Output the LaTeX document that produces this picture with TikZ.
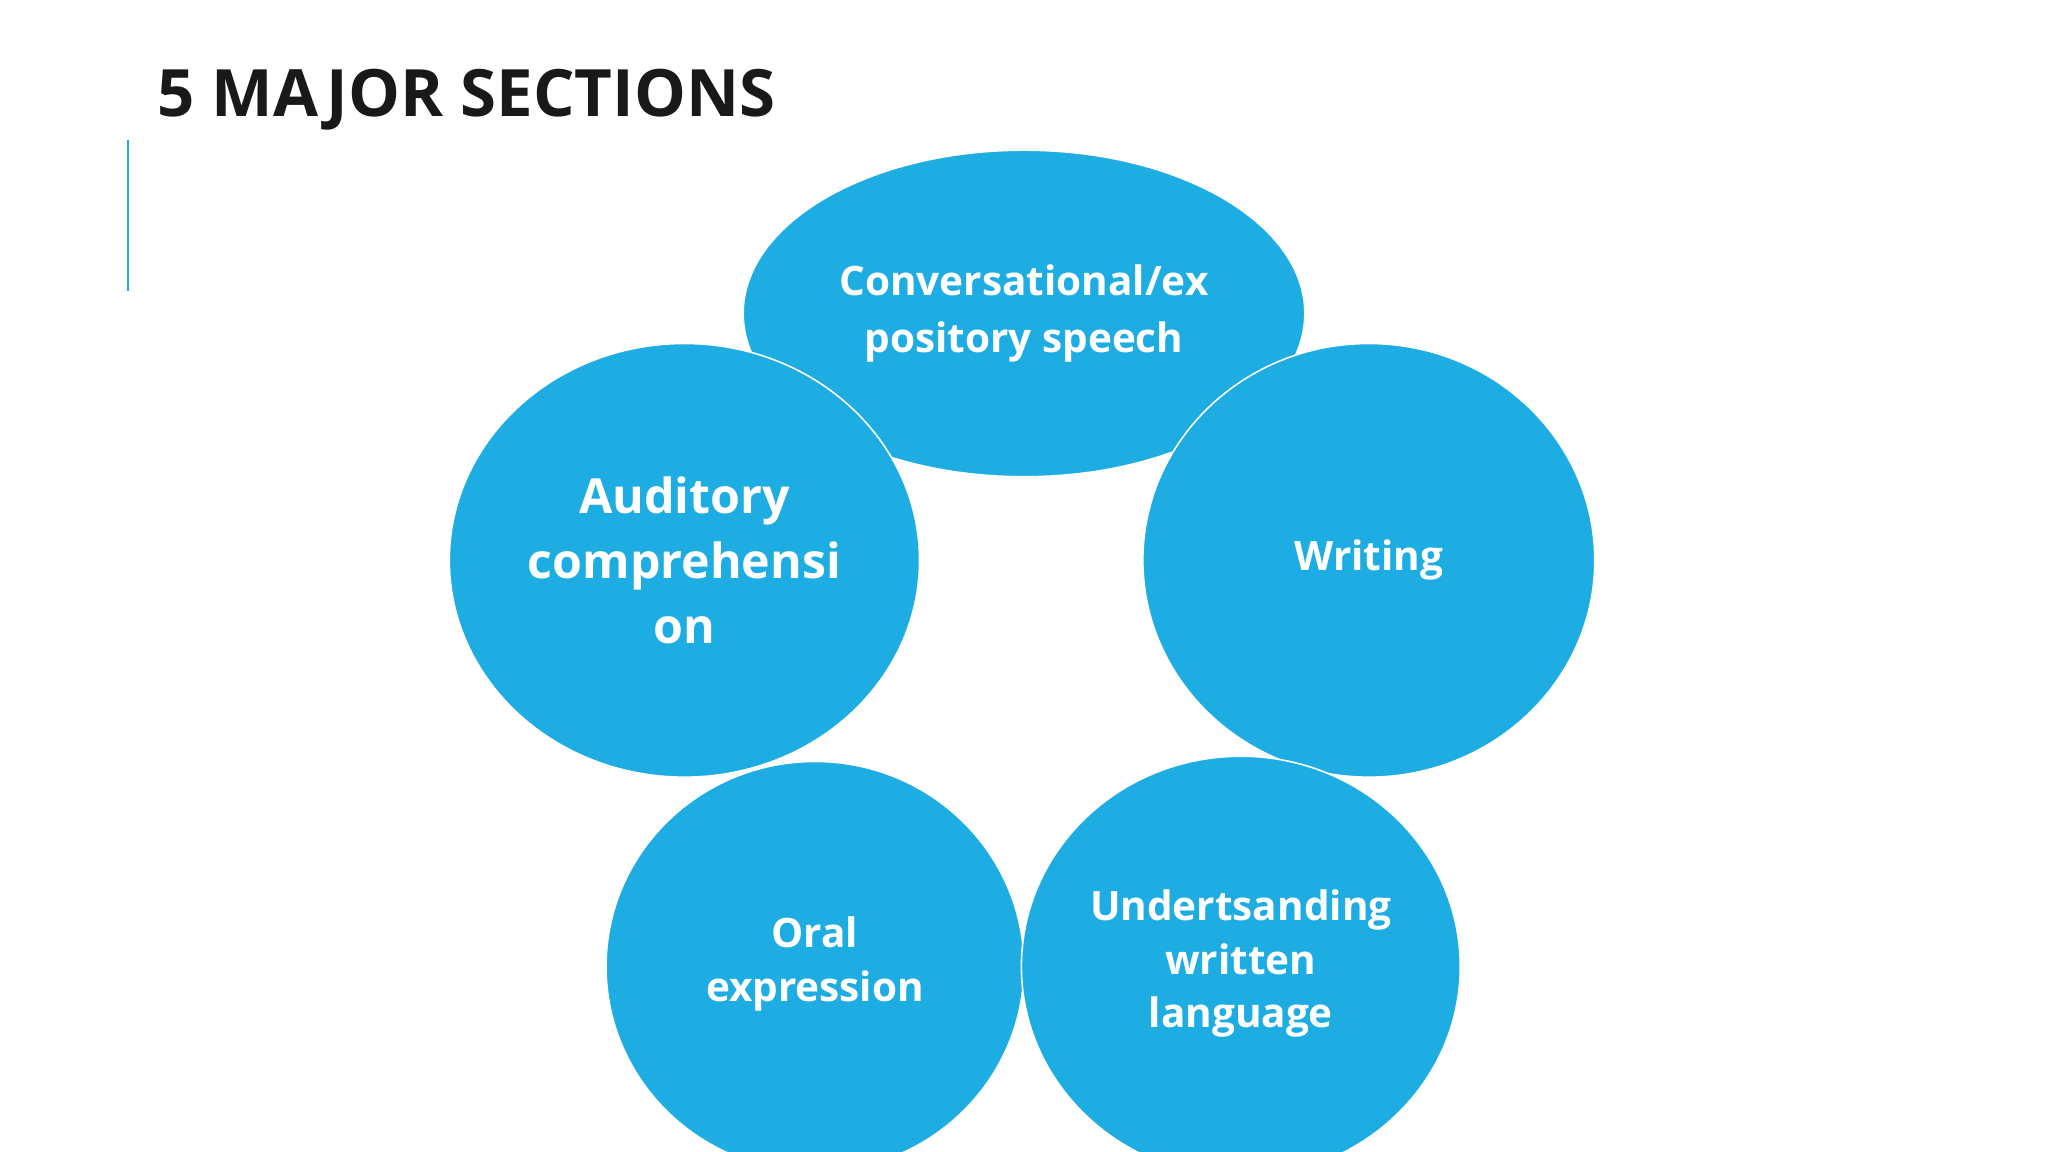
\documentclass[tikz,border=0pt]{standalone}
\usepackage{fontspec}
\setmainfont{Open Sans}
\definecolor{cblue}{HTML}{1EADE3}
\begin{document}
\begin{tikzpicture}[x=1pt,y=-1pt,
  bub/.style={fill=cblue,draw=white,line width=1.2pt},
  lab/.style={text=white,font=\bfseries,align=center}]
\useasboundingbox (0,0) rectangle (1568,882);
\clip (0,0) rectangle (1568,882);
\fill[white] (0,0) rectangle (1568,882);
\node[anchor=west,font=\fontsize{50}{60}\selectfont\bfseries,text=black!90] (title) at (117,76) {5 MAJOR SECTIONS};
\draw[cblue,line width=2pt] (98,107) coordinate (l1) -- (98,223) coordinate (l2);
\draw[bub] (784,240) ellipse [x radius=215,y radius=125];
\draw[bub] (524,429) ellipse [x radius=180,y radius=166];
\draw[bub] (1048,429) ellipse [x radius=173,y radius=166];
\draw[bub] (624,740) ellipse [x radius=160,y radius=157];
\draw[bub] (950,740) ellipse [x radius=168,y radius=161];
\node[lab,font=\fontsize{31}{43}\selectfont\bfseries] (t1) at (784,240) {Conversational/ex\\pository speech};
\node[lab,font=\fontsize{37}{50}\selectfont\bfseries] (t2) at (524,429) {Auditory\\comprehensi\\on};
\node[lab,font=\fontsize{31}{42}\selectfont\bfseries] (t3) at (1048,429) {Writing};
\node[lab,font=\fontsize{31}{42}\selectfont\bfseries] (t4) at (624,738) {Oral\\expression};
\node[lab,font=\fontsize{31}{41}\selectfont\bfseries] (t5) at (950,738) {Undertsanding\\written\\language};
\end{tikzpicture}
\end{document}
